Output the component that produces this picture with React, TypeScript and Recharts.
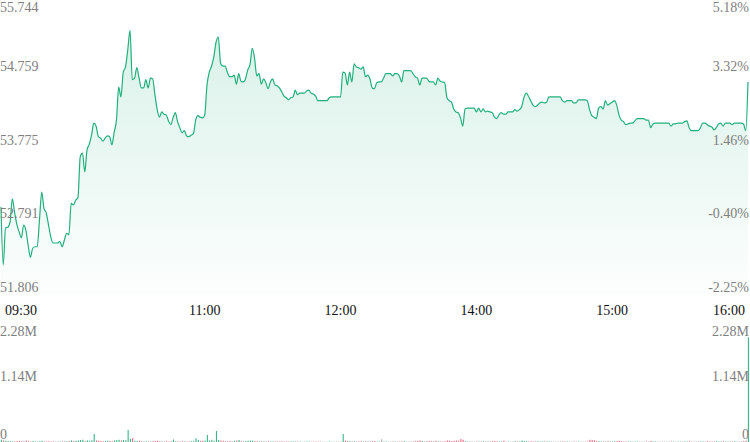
import React from 'react';
import { AreaChart, Area, ComposedChart, Bar, Cell, XAxis, YAxis } from 'recharts';

// one price per minute, 09:30 → 16:00 (HK session, lunch break collapsed)
const prices = [
  52.98, 52.21, 52.70, 52.71, 52.78, 53.09, 52.91, 52.75, 52.65, 52.57,
  52.74, 52.67, 52.47, 52.31, 52.43, 52.45, 52.45, 52.81, 53.18, 52.96,
  52.90, 52.74, 52.58, 52.50, 52.50, 52.50, 52.52, 52.45, 52.54, 52.63,
  52.61, 53.03, 53.01, 53.07, 53.11, 53.65, 53.70, 53.45, 53.74, 53.82,
  53.94, 54.10, 54.06, 53.92, 53.90, 53.86, 53.90, 53.93, 53.92, 53.81,
  53.98, 54.14, 54.58, 54.45, 54.78, 54.85, 55.08, 55.34, 54.68, 54.70,
  54.84, 54.70, 54.57, 54.57, 54.68, 54.57, 54.70, 54.69, 54.48, 54.28,
  54.18, 54.25, 54.22, 54.21, 54.13, 54.08, 54.17, 54.24, 54.12, 54.04,
  53.97, 54.00, 53.93, 53.92, 53.94, 53.96, 54.14, 54.20, 54.18, 54.17,
  54.21, 54.61, 54.78, 54.86, 54.98, 55.18, 55.25, 54.90, 54.86, 54.86,
  54.78, 54.72, 54.72, 54.74, 54.62, 54.76, 54.66, 54.65, 54.69, 54.81,
  54.88, 55.10, 54.97, 54.73, 54.76, 54.62, 54.69, 54.64, 54.56, 54.65,
  54.69, 54.61, 54.60, 54.57, 54.52, 54.46, 54.44, 54.41, 54.44, 54.45,
  54.54, 54.48, 54.50, 54.50, 54.50, 54.53, 54.54, 54.50, 54.49, 54.46,
  54.40, 54.40, 54.40, 54.40, 54.40, 54.44, 54.45, 54.45, 54.45, 54.45,
  54.45, 54.78, 54.77, 54.61, 54.78, 54.65, 54.89, 54.85, 54.84, 54.82,
  54.85, 54.72, 54.74, 54.69, 54.57, 54.56, 54.64, 54.65, 54.65, 54.70,
  54.76, 54.76, 54.76, 54.73, 54.76, 54.76, 54.73, 54.65, 54.80, 54.80,
  54.80, 54.80, 54.76, 54.72, 54.70, 54.61, 54.70, 54.70, 54.70, 54.66,
  54.65, 54.65, 54.61, 54.70, 54.66, 54.65, 54.64, 54.44, 54.40, 54.38,
  54.29, 54.25, 54.24, 54.17, 54.06, 54.29, 54.30, 54.30, 54.30, 54.30,
  54.25, 54.30, 54.25, 54.29, 54.25, 54.26, 54.25, 54.24, 54.18, 54.16,
  54.21, 54.24, 54.22, 54.22, 54.25, 54.25, 54.25, 54.28, 54.26, 54.28,
  54.32, 54.44, 54.50, 54.46, 54.40, 54.34, 54.32, 54.34, 54.37, 54.38,
  54.37, 54.38, 54.45, 54.45, 54.45, 54.45, 54.45, 54.45, 54.40, 54.38,
  54.40, 54.40, 54.40, 54.37, 54.37, 54.41, 54.41, 54.41, 54.41, 54.40,
  54.28, 54.20, 54.18, 54.16, 54.30, 54.32, 54.29, 54.40, 54.34, 54.36,
  54.38, 54.40, 54.34, 54.21, 54.14, 54.12, 54.08, 54.09, 54.10, 54.10,
  54.13, 54.16, 54.16, 54.16, 54.16, 54.14, 54.14, 54.04, 54.09, 54.10,
  54.10, 54.10, 54.10, 54.10, 54.10, 54.10, 54.06, 54.09, 54.09, 54.10,
  54.10, 54.10, 54.12, 54.13, 54.04, 54.00, 54.00, 54.00, 54.00, 54.04,
  54.10, 54.10, 54.08, 54.06, 54.05, 54.01, 54.04, 54.09, 54.10, 54.06,
  54.10, 54.10, 54.10, 54.08, 54.10, 54.10, 54.10, 54.10, 54.09, 54.00,
  54.65,
];

// volume per minute, in thousands of shares
const volumes = [
  45, 30, 25, 20, 15, 12, 10, 20, 18, 15,
  12, 30, 15, 10, 20, 12, 8, 15, 25, 12,
  10, 15, 12, 8, 10, 15, 10, 12, 10, 15,
  20, 30, 20, 25, 30, 40, 45, 20, 30, 25,
  35, 158, 30, 25, 20, 15, 20, 25, 20, 15,
  30, 40, 45, 30, 40, 35, 236, 60, 79, 25,
  20, 25, 15, 12, 15, 10, 12, 15, 20, 25,
  15, 12, 10, 15, 12, 15, 50, 15, 10, 12,
  15, 10, 12, 10, 15, 20, 75, 40, 20, 25,
  30, 138, 30, 45, 25, 217, 40, 30, 25, 20,
  15, 20, 15, 25, 30, 40, 15, 12, 20, 25,
  30, 25, 20, 15, 10, 15, 12, 10, 15, 12,
  10, 12, 8, 10, 15, 12, 10, 8, 12, 10,
  12, 10, 8, 6, 8, 10, 8, 6, 8, 10,
  12, 8, 6, 5, 6, 8, 6, 5, 8, 10,
  12, 158, 25, 20, 15, 12, 15, 12, 10, 15,
  12, 15, 10, 12, 15, 20, 12, 10, 55, 12,
  10, 8, 10, 12, 10, 8, 10, 12, 15, 10,
  8, 10, 12, 15, 25, 30, 20, 15, 25, 20,
  15, 20, 25, 15, 10, 12, 15, 30, 25, 20,
  25, 30, 25, 60, 45, 15, 12, 10, 8, 10,
  12, 10, 12, 15, 10, 12, 10, 15, 20, 15,
  10, 12, 25, 10, 8, 10, 12, 15, 10, 12,
  30, 20, 15, 12, 15, 10, 12, 15, 10, 8,
  10, 8, 12, 10, 8, 10, 8, 12, 10, 8,
  10, 12, 10, 8, 10, 12, 10, 8, 10, 12,
  45, 40, 35, 20, 15, 12, 10, 12, 15, 10,
  12, 15, 20, 25, 15, 12, 10, 8, 10, 12,
  10, 8, 10, 12, 10, 8, 10, 20, 12, 10,
  8, 10, 12, 10, 8, 10, 12, 10, 8, 10,
  12, 10, 8, 10, 15, 12, 10, 12, 15, 10,
  12, 10, 15, 12, 10, 12, 15, 12, 10, 15,
  12, 10, 15, 12, 15, 10, 12, 15, 20, 25,
  2060,
];

const timeTicks = [0, 90, 150, 210, 270, 330];
const timeLabels = ['09:30', '11:00', '12:00', '14:00', '15:00', '16:00'];

const priceTicks = [51.806, 52.791, 53.775, 54.759, 55.744];
const priceLabels = ['51.806', '52.791', '53.775', '54.759', '55.744'];
const pctLabels = ['-2.25%', '-0.40%', '1.46%', '3.32%', '5.18%'];

const volTicks = [0, 1140000, 2280000];
const volLabels = ['0', '1.14M', '2.28M'];

const W = 750;
const PRICE_PLOT_H = 295;
const VOL_PLOT_H = 116;
const GREEN = '#21b07b';
const RED = '#ef5a7a';
const GREY = '#aaaaaa';
const LABEL = '#808080';
const FONT = "'Liberation Serif', 'Times New Roman', serif";

const priceData = prices.map((p, i) => ({ m: i, price: p }));
const volData = volumes.map((v, i) => ({ m: i, vol: v * 1000 }));

const barColor = (i: number) => {
  if (i === 0) return GREEN;
  const d = prices[i] - prices[i - 1];
  if (d > 0) return GREEN;
  if (d < 0) return RED;
  return GREY;
};

// left + right labels drawn together; each sits just above its grid line,
// except the topmost which hangs below the top edge
const makeSideTick = (ticks: number[], left: string[], right: string[], topDy: number) => (props: any) => {
  const { y, payload } = props;
  const idx = ticks.indexOf(payload.value);
  const dy = idx === ticks.length - 1 ? topDy : -3;
  return (
    <g>
      <text x={0} y={y} dy={dy} textAnchor="start" fill={LABEL} fontSize={14} fontFamily={FONT}>
        {left[idx]}
      </text>
      <text x={W - 1} y={y} dy={dy} textAnchor="end" fill={LABEL} fontSize={14} fontFamily={FONT}>
        {right[idx]}
      </text>
    </g>
  );
};

const TimeTick = (props: any) => {
  const { x, payload, index } = props;
  const last = timeTicks.length - 1;
  const anchor = index === 0 ? 'start' : index === last ? 'end' : 'middle';
  const tx = index === 0 ? 5 : index === last ? W - 5 : x;
  return (
    <text x={tx} y={PRICE_PLOT_H + 20} textAnchor={anchor} fill="#111" fontSize={14} fontFamily={FONT}>
      {timeLabels[timeTicks.indexOf(payload.value)]}
    </text>
  );
};

export default function App() {
  const priceTick = makeSideTick(priceTicks, priceLabels, pctLabels, 12);
  const volTick = makeSideTick(volTicks, volLabels, volLabels, 10);

  return (
    <div style={{ position: 'absolute', left: 0, top: 0, width: W, height: 442, background: '#fff', overflow: 'hidden' }}>
      <AreaChart width={W} height={PRICE_PLOT_H + 27} data={priceData} margin={{ top: 0, right: 0, bottom: 0, left: 0 }}>
        <defs>
          <linearGradient id="priceFill" x1="0" y1="0" x2="0" y2="1">
            <stop offset="0%" stopColor={GREEN} stopOpacity={0.28} />
            <stop offset="35%" stopColor={GREEN} stopOpacity={0.19} />
            <stop offset="100%" stopColor={GREEN} stopOpacity={0.02} />
          </linearGradient>
        </defs>
        <XAxis
          dataKey="m"
          type="number"
          domain={[0, 330]}
          ticks={timeTicks}
          interval={0}
          height={27}
          axisLine={false}
          tickLine={false}
          padding={{ left: 1, right: 2 }}
          tick={<TimeTick />}
        />
        <YAxis
          domain={[priceTicks[0], priceTicks[4]]}
          ticks={priceTicks}
          interval={0}
          mirror
          axisLine={false}
          tickLine={false}
          tick={priceTick}
        />
        <Area
          type="monotone"
          dataKey="price"
          stroke={GREEN}
          strokeWidth={1.2}
          fill="url(#priceFill)"
          dot={false}
          activeDot={false}
          isAnimationActive={false}
        />
      </AreaChart>
      <ComposedChart width={W} height={VOL_PLOT_H + 4} data={volData} margin={{ top: 4, right: 0, bottom: 0, left: 0 }}>
        <XAxis dataKey="m" type="number" domain={[0, 330]} hide padding={{ left: 1, right: 2 }} />
        <YAxis
          domain={[0, 2280000]}
          ticks={volTicks}
          interval={0}
          mirror
          axisLine={false}
          tickLine={false}
          tick={volTick}
        />
        <Bar dataKey="vol" barSize={1} isAnimationActive={false}>
          {volData.map((d) => (
            <Cell key={d.m} fill={barColor(d.m)} />
          ))}
        </Bar>
      </ComposedChart>
    </div>
  );
}
